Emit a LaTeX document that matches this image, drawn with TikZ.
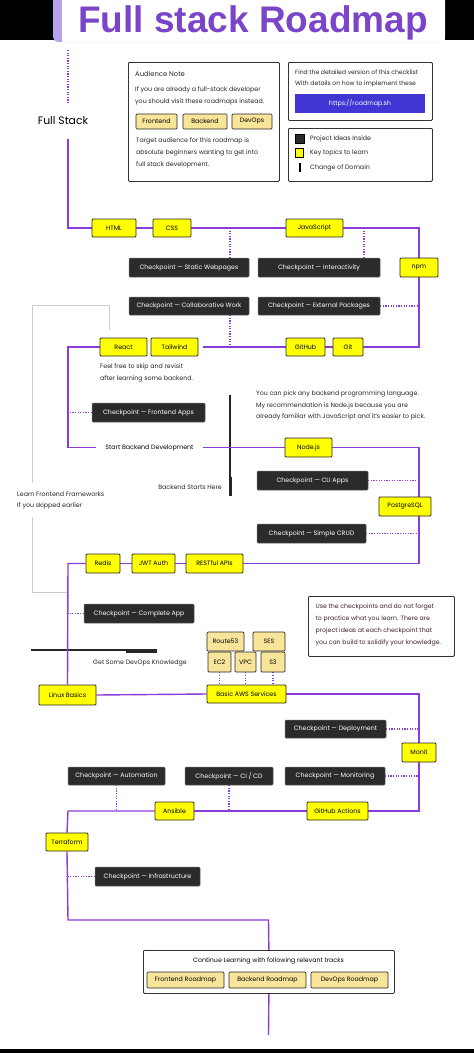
\documentclass[tikz,border=0pt]{standalone}
\usepackage{fontspec}
\setmainfont{Poppins}
\newfontfamily\titlefont{Liberation Sans}
\usetikzlibrary{backgrounds}
\definecolor{lineP}{HTML}{8E3BDB}
\definecolor{titleP}{HTML}{7B45C9}
\definecolor{lavender}{HTML}{B9A0EE}
\definecolor{topicY}{HTML}{FFFF00}
\definecolor{paleY}{HTML}{F9E59A}
\definecolor{cpDark}{HTML}{2B2B2B}
\definecolor{linkBlue}{HTML}{4136D4}
\definecolor{noteText}{HTML}{3A1F2E}
\tikzset{
  sfont/.style={font=\fontsize{6.3pt}{7.5pt}\selectfont},
  topic/.style={draw=black!85, line width=0.8pt, fill=topicY, rounded corners=1pt,
    minimum height=18pt, inner sep=0pt, sfont},
  pale/.style={draw=black!85, line width=0.7pt, fill=paleY, rounded corners=1pt,
    minimum height=15pt, inner sep=0pt, sfont},
  check/.style={draw=black!60, line width=0.5pt, fill=cpDark, text=white, rounded corners=1pt,
    minimum height=19pt, inner sep=0pt, sfont},
  infobox/.style={draw=black!80, line width=0.8pt, fill=white, rounded corners=1pt},
  txt/.style={inner sep=0pt, anchor=west, sfont, text=black!85},
  mainline/.style={draw=lineP, line width=1.4pt},
  dotline/.style={draw=lineP, line width=1.2pt, dash pattern=on 1.1pt off 1.5pt},
  grayline/.style={draw=black!20, line width=1pt},
}
\begin{document}
\begin{tikzpicture}[x=1pt,y=-1pt]
\useasboundingbox (0,0) rectangle (474,1053);
\begin{pgfonlayer}{background}
\fill[white] (0,0) rectangle (474,1053);
\end{pgfonlayer}
% header
\fill[black] (0,0) rectangle (474,40);
\fill[lavender, rounded corners=5pt] (53,-10) rectangle (445,42);
\fill[white] (62,-10) rectangle (445,42);
\node[font=\titlefont\bfseries\fontsize{37pt}{37pt}\selectfont, text=titleP, inner sep=0pt] (title) at (253,23) {Full stack Roadmap};
\fill[black] (0,1049) rectangle (474,1053);

% Full stack label
\node[inner sep=0pt, font=\fontsize{10.8pt}{12pt}\selectfont] (fullstack) at (63,121) {Full Stack};
\coordinate (topdot) at (68,50);
\coordinate (topdotend) at (68,103);
\coordinate (start) at (68,139);

% Audience note box
\node[infobox, minimum width=151pt, minimum height=119pt, anchor=north west] (aud) at (128,62) {};
\node[txt, font=\fontsize{6.8pt}{8pt}\selectfont] (audT) at (135,74) {Audience Note};
\node[txt, align=left, font=\fontsize{6.3pt}{12pt}\selectfont] (audA) at (135,96) {If you are already a full-stack developer\\you should visit these roadmaps instead.};
\node[pale, minimum width=41pt] (bfront) at (156.5,121.5) {Frontend};
\node[pale, minimum width=44pt] (bback) at (205,121.5) {Backend};
\node[pale, minimum width=40pt] (bdev) at (252,121.5) {DevOps};
\node[txt, align=left, font=\fontsize{6.3pt}{12pt}\selectfont] (audB) at (136,153) {Target audience for this roadmap is\\absolute beginners wanting to get into\\full stack development.};

% right top box
\node[infobox, minimum width=144pt, minimum height=58pt, anchor=north west] (find) at (288,62) {};
\node[txt, align=left, font=\fontsize{6.1pt}{11pt}\selectfont] (findT) at (295,78.5) {Find the detailed version of this checklist\\With details on how to implement these};
\node[fill=linkBlue, text=white, minimum width=130pt, minimum height=19pt, inner sep=0pt, sfont] (link) at (360,103.5) {https://roadmap.sh};

% legend
\node[infobox, minimum width=144pt, minimum height=53pt, anchor=north west] (legend) at (288,128) {};
\node[fill=cpDark, draw=black, minimum size=9pt, inner sep=0pt] (lgA) at (299.5,138.5) {};
\node[fill=topicY, draw=black, line width=0.7pt, minimum size=8.5pt, inner sep=0pt] (lgB) at (299.5,153) {};
\node[fill=black, minimum width=2pt, minimum height=9pt, inner sep=0pt] (lgC) at (300,167.5) {};
\node[txt] (lgAt) at (310,138.5) {Project Ideas Inside};
\node[txt] (lgBt) at (310,153) {Key topics to learn};
\node[txt] (lgCt) at (310,167.5) {Change of Domain};

% topics
\node[topic, minimum width=44pt] (html) at (114,228) {HTML};
\node[topic, minimum width=38pt] (css) at (172,228) {CSS};
\node[topic, minimum width=57pt] (js) at (314.5,228) {JavaScript};
\node[topic, minimum width=38pt, minimum height=19pt] (npm) at (419,267.5) {npm};
\node[topic, minimum width=30pt] (git) at (348,347) {Git};
\node[topic, minimum width=39pt] (github) at (305.5,347) {GitHub};
\node[topic, minimum width=47pt] (tailwind) at (174.5,347) {Tailwind};
\node[topic, minimum width=47pt] (react) at (123.5,347) {React};
\node[topic, minimum width=47pt, minimum height=19pt] (nodejs) at (308.5,447.5) {Node.js};
\node[topic, minimum width=52pt, minimum height=19pt] (postgres) at (405,506.5) {PostgreSQL};
\node[topic, minimum width=57pt, minimum height=19pt] (restful) at (214.5,563.5) {RESTful APIs};
\node[topic, minimum width=43pt, minimum height=19pt] (jwt) at (153.5,563.5) {JWT Auth};
\node[topic, minimum width=34pt, minimum height=19pt] (redis) at (103,563.5) {Redis};
\node[topic, minimum width=57pt, minimum height=20pt] (linux) at (67.5,695) {Linux Basics};
\node[topic, minimum width=79pt, minimum height=18pt] (aws) at (246.5,694) {Basic AWS Services};
\node[topic, minimum width=34pt, minimum height=19pt] (monit) at (419,752.5) {Monit};
\node[topic, minimum width=61pt] (ghactions) at (337.5,811) {GitHub Actions};
\node[topic, minimum width=39pt] (ansible) at (174.5,811) {Ansible};
\node[topic, minimum width=42pt] (terraform) at (67,842) {Terraform};

% AWS services
\node[pale, minimum width=37pt, minimum height=19pt] (route53) at (225.5,641.5) {Route53};
\node[pale, minimum width=32pt, minimum height=19pt] (ses) at (269,641.5) {SES};
\node[pale, minimum width=23pt, minimum height=20pt] (ec2) at (219.5,662) {EC2};
\node[pale, minimum width=21pt, minimum height=20pt] (vpc) at (245.5,662) {VPC};
\node[pale, minimum width=24pt, minimum height=20pt] (s3) at (273,662) {S3};

% checkpoints
\node[check, minimum width=120pt] (static) at (189,267.5) {Checkpoint — Static Webpages};
\node[check, minimum width=122pt] (inter) at (319,267.5) {Checkpoint — Interactivity};
\node[check, minimum width=120pt, minimum height=18pt] (collab) at (189,306) {Checkpoint — Collaborative Work};
\node[check, minimum width=122pt, minimum height=18pt] (external) at (319,306) {Checkpoint — External Packages};
\node[check, minimum width=113pt] (feapps) at (148.5,412.5) {Checkpoint — Frontend Apps};
\node[check, minimum width=111pt] (cli) at (312.5,480.5) {Checkpoint — CLI Apps};
\node[check, minimum width=109pt] (crud) at (311.5,533.5) {Checkpoint — Simple CRUD};
\node[check, minimum width=110pt] (complete) at (139,613.5) {Checkpoint — Complete App};
\node[check, minimum width=101pt, minimum height=18pt] (deploy) at (335.5,729) {Checkpoint — Deployment};
\node[check, minimum width=97pt, minimum height=18pt] (automation) at (116.5,776) {Checkpoint — Automation};
\node[check, minimum width=88pt, minimum height=18pt] (cicd) at (229,776) {Checkpoint — CI / CD};
\node[check, minimum width=100pt, minimum height=18pt] (monitoring) at (335,776) {Checkpoint — Monitoring};
\node[check, minimum width=105pt] (infra) at (147.5,876.5) {Checkpoint — Infrastructure};

% free texts
\node[txt, align=left, font=\fontsize{6.3pt}{12pt}\selectfont] (skip) at (100,373) {Feel free to skip and revisit\\after learning some backend.};
\node[sfont, inner sep=0pt] (startbe) at (149.5,447.5) {Start Backend Development};
\node[txt, anchor=east] (bestarts) at (222,487) {Backend Starts Here};
\node[txt, align=left, font=\fontsize{6.3pt}{11.5pt}\selectfont] (pick) at (256,405.5) {You can pick any backend programming language.\\My recommendation is Node.js because you are\\already familiar with JavaScript and it's easier to pick.};
\node[txt, align=left, font=\fontsize{6.3pt}{11pt}\selectfont] (learnfe) at (17,500.5) {Learn Frontend Frameworks\\If you skipped earlier};
\node[txt] (devopsk) at (93,663) {Get Some DevOps Knowledge};

% note box
\node[infobox, minimum width=146pt, minimum height=60pt, anchor=north west] (note) at (308,596) {};
\node[txt, align=left, text=noteText, font=\fontsize{6.2pt}{12pt}\selectfont] (noteT) at (315.5,625) {Use the checkpoints and do not forget\\to practice what you learn. There are\\project ideas at each checkpoint that\\you can build to solidify your knowledge.};

% continue box
\node[infobox, minimum width=251pt, minimum height=43pt, anchor=north west] (cont) at (143,950) {};
\node[sfont, inner sep=0pt] (contT) at (268.5,961) {Continue Learning with following relevant tracks};
\node[pale, minimum width=77pt, minimum height=16pt] (rfront) at (185.5,980) {Frontend Roadmap};
\node[pale, minimum width=77pt, minimum height=16pt] (rback) at (267.5,980) {Backend Roadmap};
\node[pale, minimum width=77pt, minimum height=16pt] (rdev) at (349.5,980) {DevOps Roadmap};

\begin{pgfonlayer}{background}
% gray frame
\draw[grayline] (68,592) -- (32,592) -- (32,517);
\draw[grayline] (32,483) -- (32,305) -- (109,305) -- (109,330);
% domain markers
\draw[black!85, line width=1.2pt] (230,395) -- (230,496);
\draw[black!85, line width=3pt] (230,477) -- (230,496);
\draw[black!85, line width=1.2pt] (31,650) -- (157,650);
\fill[black!85] (126,650) rectangle (157,653);
% main path
\draw[dotline] (topdot) -- (topdotend);
\draw[mainline] (start) -- (68,228) -- (html.west);
\draw[mainline] (html.east) -- (css.west);
\draw[mainline] (css.east) -- (js.west);
\draw[mainline] (js.east) -- (419,228) -- (npm.north);
\draw[mainline] (npm.south) -- (419,347) -- (git.east);
\draw[mainline] (git.west) -- (github.east);
\draw[mainline] (github.west) -- (203,347);
\draw[mainline] (react.west) -- (68,347) -- (68,447.5) -- (96,447.5);
\draw[mainline] (203,447.5) -- (nodejs.west);
\draw[mainline] (nodejs.east) -- (419,447.5) -- (419,563.5) -- (restful.east);
\draw[mainline] (restful.west) -- (jwt.east);
\draw[mainline] (jwt.west) -- (redis.east);
\draw[mainline] (redis.west) -- (68,563.5) -- (linux.north);
\draw[mainline] (linux.east) -- (aws.west);
\draw[mainline] (aws.east) -- (419,694) -- (monit.north);
\draw[mainline] (monit.south) -- (419,811) -- (ghactions.east);
\draw[mainline] (ghactions.west) -- (ansible.east);
\draw[mainline] (ansible.west) -- (68,811) -- (terraform.north);
\draw[mainline] (terraform.south) -- (68,920) -- (268.5,920) -- (cont.north);
\draw[mainline] (cont.south) -- (268.5,1035);
% dotted links
\draw[dotline] (230,228) -- (static.north -| 230,0);
\draw[dotline] (364,228) -- (inter.north -| 364,0);
\draw[dotline] (external.east) -- (419,306);
\draw[dotline] (collab.south -| 230,0) -- (230,347);
\draw[dotline] (feapps.west) -- (68,412.5);
\draw[dotline] (cli.east) -- (419,480.5);
\draw[dotline] (crud.east) -- (419,533.5);
\draw[dotline] (complete.west) -- (68,613.5);
\draw[dotline] (ec2.south) -- (ec2.south |- aws.north);
\draw[dotline] (vpc.south) -- (vpc.south |- aws.north);
\draw[dotline] (s3.south) -- (s3.south |- aws.north);
\draw[dotline] (deploy.east) -- (419,729);
\draw[dotline] (monitoring.east) -- (419,776);
\draw[dotline] (automation.south) -- (automation.south |- ansible.west);
\draw[dotline] (cicd.south) -- (cicd.south |- ansible.east);
\draw[dotline] (infra.west) -- (68,876.5);
\end{pgfonlayer}
\end{tikzpicture}
\end{document}
